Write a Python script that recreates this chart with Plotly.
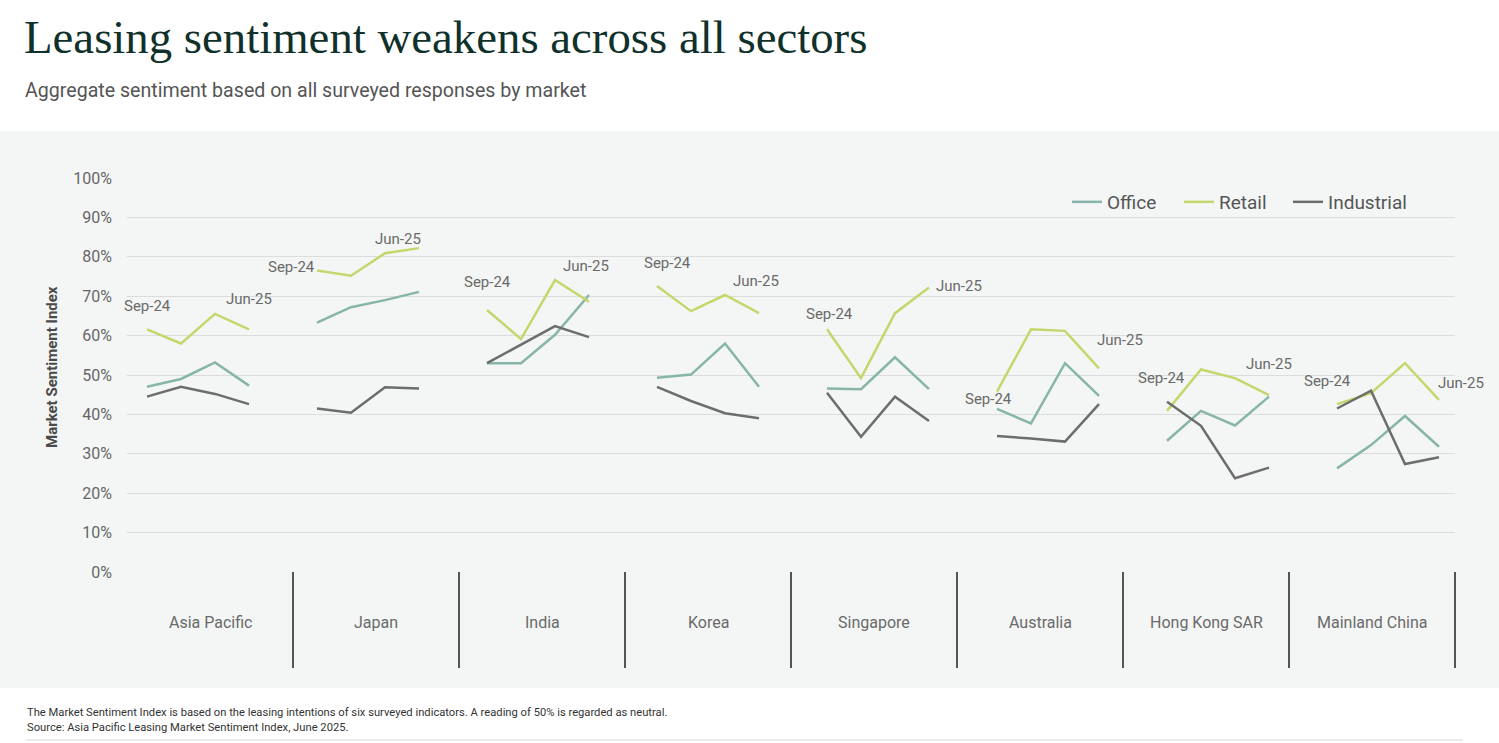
import plotly.graph_objects as go

# ---------------- data ----------------
markets = ["Asia Pacific", "Japan", "India", "Korea", "Singapore",
           "Australia", "Hong Kong SAR", "Mainland China"]
quarters = ["Sep-24", "Dec-24", "Mar-25", "Jun-25"]

office = [
    [47.0, 49.0, 53.2, 47.3],
    [63.3, 67.2, 69.0, 71.1],
    [53.0, 53.0, 60.2, 70.3],
    [49.3, 50.1, 58.0, 47.0],
    [46.6, 46.4, 54.5, 46.4],
    [41.4, 37.7, 53.0, 44.7],
    [33.3, 40.9, 37.2, 44.5],
    [26.3, 32.2, 39.6, 31.8],
]
retail = [
    [61.6, 58.0, 65.5, 61.6],
    [76.5, 75.2, 80.9, 82.2],
    [66.5, 59.1, 74.1, 68.6],
    [72.6, 66.2, 70.3, 65.7],
    [61.6, 49.2, 65.7, 72.2],
    [45.8, 61.6, 61.2, 51.7],
    [40.9, 51.4, 49.2, 44.9],
    [42.6, 45.4, 53.0, 43.7],
]
industrial = [
    [44.5, 47.0, 45.2, 42.6],
    [41.5, 40.4, 46.9, 46.6],
    [53.0, 57.6, 62.4, 59.6],
    [47.0, 43.4, 40.3, 39.0],
    [45.5, 34.3, 44.5, 38.3],
    [34.5, 33.9, 33.1, 42.6],
    [43.2, 37.1, 23.8, 26.5],
    [41.5, 46.0, 27.4, 29.1],
]

y_ticks = [0, 10, 20, 30, 40, 50, 60, 70, 80, 90, 100]
y_tick_labels = [f"{v}%" for v in y_ticks]

# ---------------- style ----------------
FONT = "Roboto"
C_OFFICE = "#88b5a9"
C_RETAIL = "#c5d76c"
C_INDUS = "#6d6d6d"
PANEL = "#f4f6f5"
GRID = "#dadddc"
TXT = "#666666"

W, H = 1499, 743
ML, MR, MT, MB = 127, 44, 178, 171
PW = W - ML - MR
PH = H - MT - MB
SLOT = 5  # points per market incl. gap


def px_x(px):
    return (px - ML) / PW


def px_y(py):
    return (H - MB - py) / PH


# label offsets (pixels) for the Sep-24 / Jun-25 labels, anchored to the retail points
sep_offsets = [(0, 23), (-26, 4), (0, 28), (10, 23), (2, 15), (-9, -7), (-6, 33), (-10, 23)]
jun_offsets = [(0, 30), (-21, 9), (-3, 36), (-3, 32), (30, 2), (21, 28), (0, 31), (22, 17)]
legend_px = [1067, 1179, 1288]


def series_xy(values):
    xs, ys = [], []
    for m, vals in enumerate(values):
        for q, v in enumerate(vals):
            xs.append(m * SLOT + q)
            ys.append(v)
        xs.append(None)
        ys.append(None)
    return xs, ys


fig = go.Figure()
legend_ids = ["legend", "legend2", "legend3"]
for i, (name, vals, col) in enumerate([("Office", office, C_OFFICE),
                                       ("Retail", retail, C_RETAIL),
                                       ("Industrial", industrial, C_INDUS)]):
    xs, ys = series_xy(vals)
    fig.add_trace(go.Scatter(x=xs, y=ys, mode="lines", name=name,
                             line=dict(color=col, width=2.5),
                             connectgaps=False, hoverinfo="skip",
                             legend=legend_ids[i]))

shapes = []
# grey panel
shapes.append(dict(type="rect", xref="paper", yref="paper",
                   x0=px_x(0), x1=px_x(W), y0=px_y(688), y1=px_y(131),
                   fillcolor=PANEL, line=dict(width=0), layer="below"))
# category separators
for k in range(1, len(markets) + 1):
    shapes.append(dict(type="line", xref="paper", yref="paper",
                       x0=k / len(markets), x1=k / len(markets),
                       y0=0, y1=px_y(668),
                       line=dict(color="#555555", width=2)))
# footer rule
shapes.append(dict(type="line", xref="paper", yref="paper",
                   x0=px_x(26), x1=px_x(1463), y0=px_y(740), y1=px_y(740),
                   line=dict(color="#d8d8d8", width=1)))

annotations = []
# category labels
for k, m in enumerate(markets):
    annotations.append(dict(xref="paper", yref="paper",
                            x=(k + 0.5) / len(markets), y=px_y(622),
                            text=m, showarrow=False, xanchor="center", yanchor="middle",
                            font=dict(family=FONT, size=16, color="#6a6a6a")))
# Sep-24 / Jun-25 labels
for m in range(len(markets)):
    dx, dy = sep_offsets[m]
    annotations.append(dict(x=m * SLOT, y=retail[m][0], xref="x", yref="y",
                            text=quarters[0], showarrow=False,
                            xanchor="center", yanchor="middle",
                            xshift=dx, yshift=dy,
                            font=dict(family=FONT, size=15, color="#6a6a6a")))
    dx, dy = jun_offsets[m]
    annotations.append(dict(x=m * SLOT + 3, y=retail[m][3], xref="x", yref="y",
                            text=quarters[3], showarrow=False,
                            xanchor="center", yanchor="middle",
                            xshift=dx, yshift=dy,
                            font=dict(family=FONT, size=15, color="#6a6a6a")))
# y axis title
annotations.append(dict(xref="paper", yref="paper", x=px_x(52), y=px_y(367),
                        text="<b>Market Sentiment Index</b>", textangle=-90,
                        showarrow=False, xanchor="center", yanchor="middle",
                        font=dict(family=FONT, size=15, color="#4a4a4a")))
# title & subtitle
annotations.append(dict(xref="paper", yref="paper", x=px_x(22), y=px_y(37),
                        text="Leasing sentiment weakens across all sectors",
                        showarrow=False, xanchor="left", yanchor="middle",
                        font=dict(family="Liberation Serif", size=46.8, color="#10302b")))
annotations.append(dict(xref="paper", yref="paper", x=px_x(23), y=px_y(90),
                        text="Aggregate sentiment based on all surveyed responses by market",
                        showarrow=False, xanchor="left", yanchor="middle",
                        font=dict(family=FONT, size=19.6, color="#555555")))
# footer
annotations.append(dict(xref="paper", yref="paper", x=px_x(25), y=px_y(712),
                        text="The Market Sentiment Index is based on the leasing intentions of six surveyed indicators. A reading of 50% is regarded as neutral.",
                        showarrow=False, xanchor="left", yanchor="middle",
                        font=dict(family=FONT, size=11.2, color="#333333")))
annotations.append(dict(xref="paper", yref="paper", x=px_x(25), y=px_y(727),
                        text="Source: Asia Pacific Leasing Market Sentiment Index, June 2025.",
                        showarrow=False, xanchor="left", yanchor="middle",
                        font=dict(family=FONT, size=11.2, color="#333333")))

x_min = -20 / 34
x_max = x_min + PW / 34


def legend_cfg(px):
    return dict(orientation="h", x=px_x(px), xanchor="left",
                y=px_y(202), yanchor="middle",
                bgcolor="rgba(0,0,0,0)",
                font=dict(family=FONT, size=19, color="#555555"),
                itemwidth=30)


fig.update_layout(
    width=W, height=H,
    margin=dict(l=ML, r=MR, t=MT, b=MB, pad=0),
    paper_bgcolor="white",
    plot_bgcolor="rgba(0,0,0,0)",
    font=dict(family=FONT, color=TXT),
    showlegend=True,
    legend=legend_cfg(legend_px[0]),
    legend2=legend_cfg(legend_px[1]),
    legend3=legend_cfg(legend_px[2]),
    xaxis=dict(range=[x_min, x_max], showticklabels=False, showgrid=False,
               zeroline=False, showline=False, fixedrange=True),
    yaxis=dict(range=[0, 100], tickvals=y_ticks, ticktext=y_tick_labels,
               showgrid=True, gridcolor=GRID, gridwidth=1,
               zeroline=False, showline=False, ticks="",
               ticklabelstandoff=14, fixedrange=True,
               tickfont=dict(family=FONT, size=16, color="#666666")),
    shapes=shapes,
    annotations=annotations,
)

fig.write_html("out.html",
               config={"displayModeBar": False},
               post_script="document.body.style.margin='0px';document.body.style.overflow='hidden';")
